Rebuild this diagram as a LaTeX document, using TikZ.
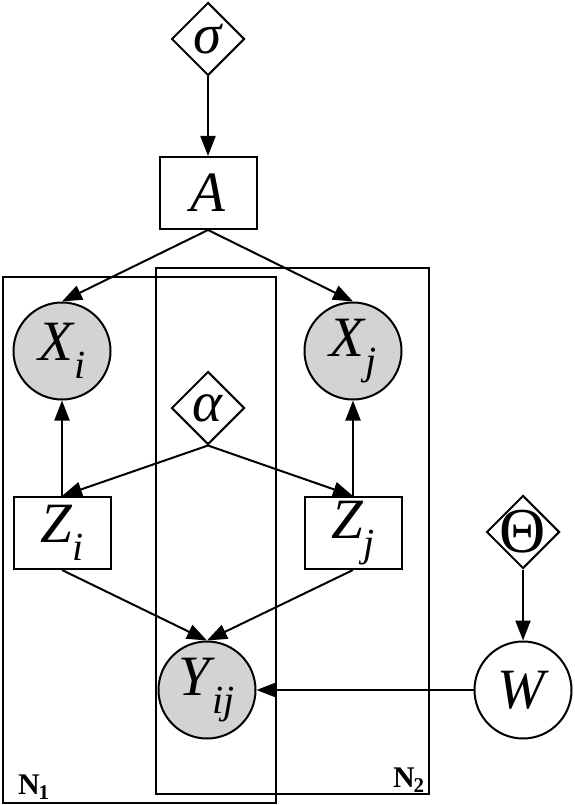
\documentclass[tikz,border=0pt]{standalone}
\usepackage{fontspec}
\setmainfont{Liberation Serif}
\usetikzlibrary{arrows.meta, positioning, shapes.geometric}
\definecolor{obsgray}{RGB}{211,211,211}
\newcommand{\var}[3][0pt]{\textit{#2}\kern#1\textsubscript{\textit{#3}}}

\begin{document}
\begin{tikzpicture}[x=1pt, y=-1pt,
				->,
				>={Triangle[length=20pt,width=15pt]},
				line width=2pt,
				font=\fontsize{57}{64}\selectfont,
				obs/.style={circle, draw, fill=obsgray, minimum size=97pt, inner sep=0pt},
				latent/.style={circle, draw, minimum size=97pt, inner sep=0pt},
				param/.style={rectangle, draw, minimum width=97pt, minimum height=72pt, inner sep=0pt},
				hyper/.style={diamond, draw, minimum size=73pt, inner sep=0pt},
				platelabel/.style={anchor=base west, inner sep=0pt, font=\fontsize{30}{34}\selectfont\bfseries}]
				\useasboundingbox (0,0) rectangle (574,805);
				% plates
				\draw[-] (3,277) rectangle (276,803);
				\draw[-] (156,268) rectangle (429,794);
				\node at (17,794) (n1) [platelabel] {N\kern-1pt\textsubscript{1}};
				\node at (392,787) (n2) [platelabel] {N\kern-1pt\textsubscript{2}};
				% nodes
				\node at (208,39) (sigma) [hyper] {\textit{σ}};
				\node at (208,193) (a) [param] {\textit{A}};
				\node at (62,351) (xi) [obs] {\var[-1pt]{X}{i}};
				\node at (353,351) (xj) [obs] {\var[-1pt]{X}{j}};
				\node at (208,408) (alpha) [hyper] {\textit{α}};
				\node at (62,533) (zi) [param] {\var{Z}{i}};
				\node at (353,533) (zj) [param] {\var{Z}{j}};
				\node at (523,532) (theta) [hyper, inner sep=-14pt] {\fontsize{64}{70}\selectfont Θ};
				\node at (523,690) (w) [latent] {\textit{W}};
				\node at (207,690) (yij) [obs] {\var[-3pt]{Y}{ij}};
				% edges
				\draw[->, black] (sigma.south) -- (a.north);
				\draw[->, black] (a.south) -- (xi.north);
				\draw[->, black] (a.south) -- (xj.north);
				\draw[->, black] (zi.north) -- (xi.south);
				\draw[->, black] (zj.north) -- (xj.south);
				\draw[->, black] (alpha.south) -- (zi.north);
				\draw[->, black] (alpha.south) -- (zj.north);
				\draw[->, black] (zi.south) -- (yij.north);
				\draw[->, black] (zj.south) -- (yij.north);
				\draw[->, black] (theta.south) -- (w.north);
				\draw[->, black] (w.west) -- (yij.east);
			\end{tikzpicture}
\end{document}
